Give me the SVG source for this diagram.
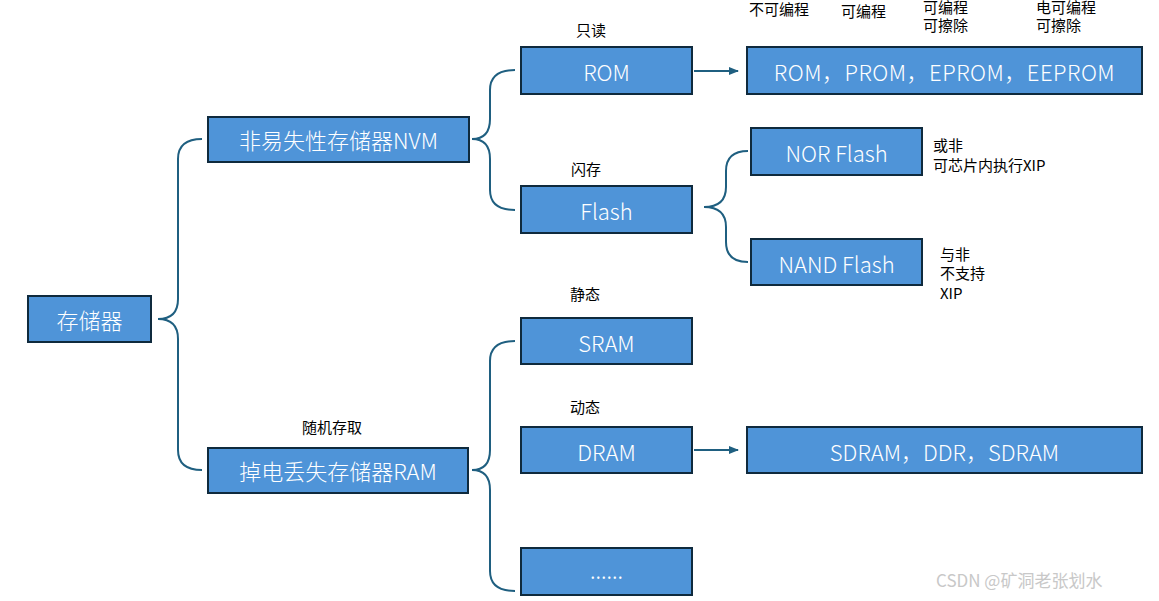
<svg xmlns="http://www.w3.org/2000/svg" width="1159" height="601" viewBox="0 0 1159 601">
<defs>
<style>
.b{fill:#4f94d8;stroke:#0f2a3d;stroke-width:2}
.t{font-family:"Noto Sans CJK SC","Liberation Sans",sans-serif;fill:#fff;font-size:22px;font-weight:300;text-anchor:middle;dominant-baseline:central}
.n{font-family:"Noto Sans CJK SC","Liberation Sans",sans-serif;fill:#000;font-size:15px}
.c{fill:none;stroke:#1f5f80;stroke-width:2}
</style>
<marker id="a" markerWidth="10" markerHeight="8" refX="9" refY="4" orient="auto" markerUnits="userSpaceOnUse"><path d="M0,0 L10,4 L0,8 z" fill="#1f5f80"/></marker>
</defs>
<rect width="1159" height="601" fill="#fff"/>
<g id="connectors">
<path class="c" d="M158,319 Q178,319 178,299 L178,159 Q178,139 202,139"/>
<path class="c" d="M158,319 Q178,319 178,339 L178,450 Q178,470 202,470"/>
<path class="c" d="M472,139 Q490,139 490,119 L490,90 Q490,70 515,70"/>
<path class="c" d="M472,139 Q490,139 490,159 L490,190 Q490,210 515,210"/>
<path class="c" d="M704,207 Q726,207 726,187 L726,171 Q726,151 748,151"/>
<path class="c" d="M704,207 Q726,207 726,227 L726,242 Q726,262 748,262"/>
<path class="c" d="M472,470 Q490,470 490,450 L490,361 Q490,341 515,341"/>
<path class="c" d="M472,470 Q490,470 490,490 L490,571 Q490,591 515,591"/>
<path class="c" d="M694,71 L738,71" marker-end="url(#a)"/>
<path class="c" d="M694,450 L738,450" marker-end="url(#a)"/>
</g>
<g id="n-root"><rect class="b" x="28" y="296" width="123" height="46"/><text class="t" x="89.5" y="319">存储器</text></g>
<g id="n-nvm"><rect class="b" x="208" y="117" width="261" height="45"/><text class="t" x="338.5" y="139">非易失性存储器NVM</text></g>
<g id="n-ram"><rect class="b" x="208" y="448" width="260" height="45"/><text class="t" x="338" y="470">掉电丢失存储器RAM</text></g>
<g id="n-rom"><rect class="b" x="521" y="47" width="171" height="47"/><text class="t" x="606.5" y="71">ROM</text></g>
<g id="n-flash"><rect class="b" x="521" y="186" width="171" height="47"/><text class="t" x="606.5" y="210">Flash</text></g>
<g id="n-sram"><rect class="b" x="521" y="318" width="171" height="46"/><text class="t" x="606.5" y="342">SRAM</text></g>
<g id="n-dram"><rect class="b" x="521" y="427" width="171" height="46"/><text class="t" x="606.5" y="451">DRAM</text></g>
<g id="n-more"><rect class="b" x="521" y="548" width="171" height="47"/><text class="t" x="606.5" y="569">......</text></g>
<g id="n-romlist"><rect class="b" x="747" y="47" width="395" height="47"/><text class="t" x="944.5" y="71" letter-spacing="0.5">ROM，PROM，EPROM，EEPROM</text></g>
<g id="n-nor"><rect class="b" x="751" y="128" width="171" height="47"/><text class="t" x="836.5" y="152">NOR Flash</text></g>
<g id="n-nand"><rect class="b" x="751" y="239" width="171" height="46"/><text class="t" x="836.5" y="263">NAND Flash</text></g>
<g id="n-dramlist"><rect class="b" x="747" y="427" width="395" height="46"/><text class="t" x="944.5" y="451">SDRAM，DDR，SDRAM</text></g>
<g id="labels">
<text class="n" x="576" y="36">只读</text>
<text class="n" x="571" y="175">闪存</text>
<text class="n" x="570" y="300">静态</text>
<text class="n" x="570" y="413">动态</text>
<text class="n" x="302" y="433">随机存取</text>
<text class="n" x="749" y="15">不可编程</text>
<text class="n" x="841" y="17">可编程</text>
<text class="n" x="923" y="13">可编程</text>
<text class="n" x="923" y="31">可擦除</text>
<text class="n" x="1036" y="13">电可编程</text>
<text class="n" x="1036" y="31">可擦除</text>
<text class="n" x="933" y="151">或非</text>
<text class="n" x="933" y="171">可芯片内执行XIP</text>
<text class="n" x="940" y="260">与非</text>
<text class="n" x="940" y="279">不支持</text>
<text class="n" x="940" y="299">XIP</text>
<text x="936" y="587" font-family="Noto Sans CJK SC,Liberation Sans,sans-serif" font-size="17" fill="#c8c8c8">CSDN @矿洞老张划水</text>
</g>
</svg>
